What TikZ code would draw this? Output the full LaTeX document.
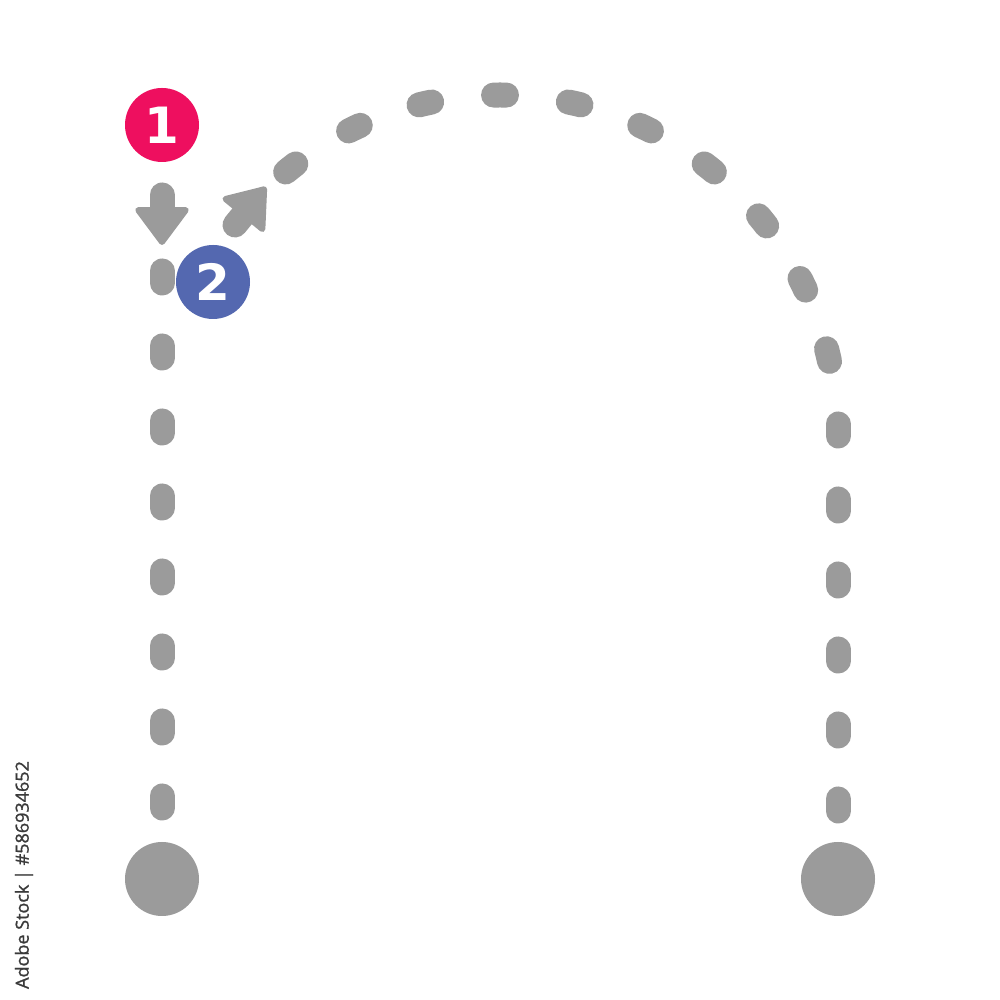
\documentclass[tikz,border=0pt]{standalone}
\usepackage{fontspec}
\usetikzlibrary{arrows.meta}
\newfontfamily\badgefont{DejaVu Sans}
\newfontfamily\markfont[FakeBold=1.2]{Open Sans}
\definecolor{traceGray}{HTML}{9B9B9B}
\definecolor{badgePink}{HTML}{EE0F5F}
\definecolor{badgeBlue}{HTML}{5468B0}
\definecolor{markGray}{HTML}{3A3A3A}
\tikzset{
  dashpiece/.style={draw=traceGray, line width=25pt, line cap=round},
  guidearrow/.style={draw=traceGray, line width=25pt, line cap=round,
    -{Triangle[round, width=58pt, length=40pt, line width=6pt]}},
  badge/.style={circle, minimum size=74pt, inner sep=0pt, text=white,
    font=\badgefont\bfseries\fontsize{50}{60}\selectfont},
  enddot/.style={circle, fill=traceGray, minimum size=74pt, inner sep=0pt},
}
\begin{document}
\begin{tikzpicture}[x=1pt,y=1pt]
  \fill[white] (0,0) rectangle (1000,1000);
  \useasboundingbox (0,0) rectangle (1000,1000);
  % left vertical dashes
  \foreach \k in {0,...,7} {
    \draw[dashpiece] (162,{723-75*\k+6}) -- (162,{723-75*\k-6});
  }
  % right vertical dashes
  \foreach \k in {0,...,5} {
    \draw[dashpiece] (838,{570-75*\k+6}) -- (838,{570-75*\k-6});
  }
  % arch dashes
  \coordinate (archcenter) at (500,568);
  \foreach \k in {0,...,9} {
    \pgfmathsetmacro{\a}{13.2+12.8*\k}
    \draw[dashpiece] (archcenter) ++({\a-1.1}:337) arc[start angle={\a-1.1}, end angle={\a+1.1}, radius=337];
  }
  % direction arrows
  \coordinate (downstart) at (162,805);
  \coordinate (downend) at (162,755);
  \draw[guidearrow] (downstart) -- (downend);
  \coordinate (diagstart) at (235,775);
  \coordinate (diagend) at (266,813);
  \draw[guidearrow] (diagstart) -- (diagend);
  % badges
  \node[badge, fill=badgePink] (one) at (162,875) {1};
  \node[badge, fill=badgeBlue] (two) at (213,718) {2};
  % end dots
  \node[enddot] (leftdot) at (162,121) {};
  \node[enddot] (rightdot) at (838,121) {};
  % watermark label
  \node[rotate=90, text=markGray, font=\markfont\fontsize{18}{21}\selectfont] (mark) at (24,125) {Adobe Stock | \#586934652};
\end{tikzpicture}
\end{document}
